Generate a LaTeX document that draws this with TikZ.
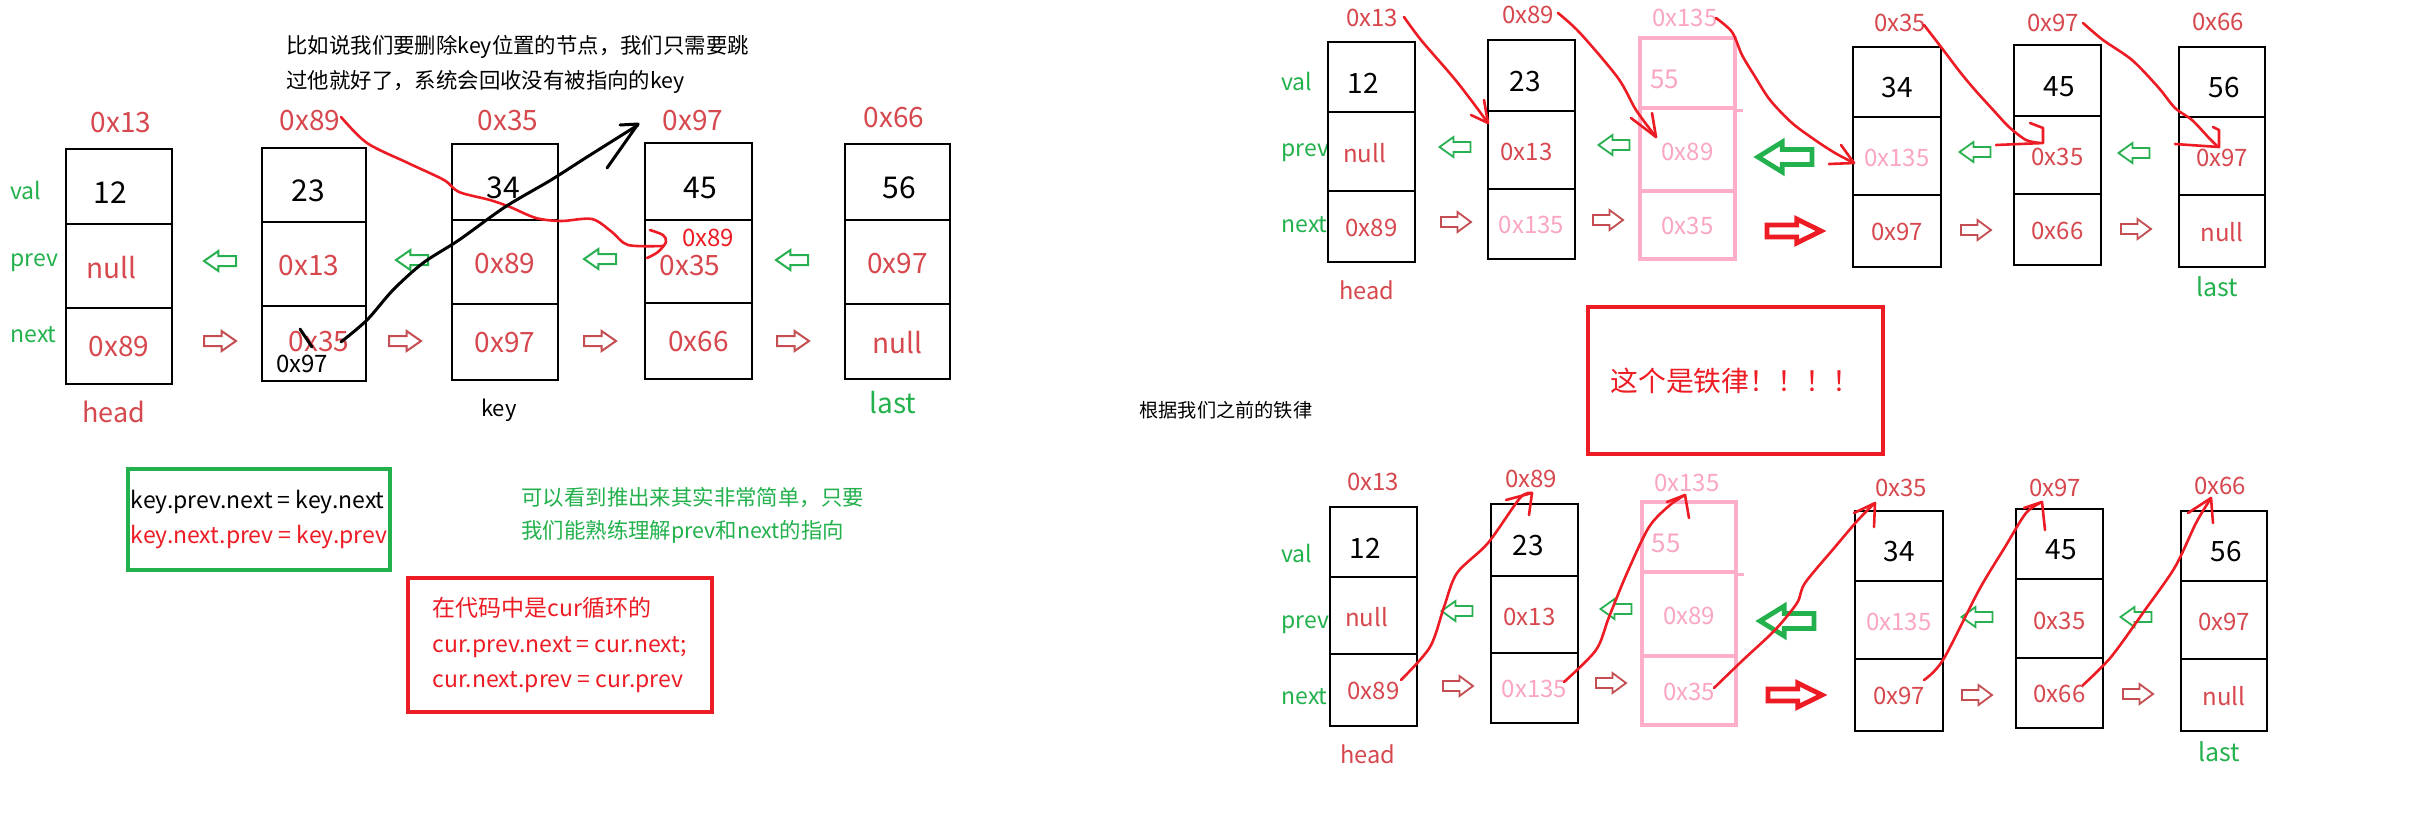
\documentclass[tikz,border=0pt]{standalone}
\usepackage{fontspec}
\setmainfont{Noto Sans CJK SC}
\usetikzlibrary{fit}
\definecolor{lblgreen}{RGB}{34,177,76}
\definecolor{addrred}{RGB}{214,72,78}
\definecolor{hred}{RGB}{237,28,36}
\definecolor{pinkline}{RGB}{255,174,201}
\definecolor{pinktext}{RGB}{250,165,195}
\definecolor{darrred}{RGB}{196,78,82}
\definecolor{arrgreen}{RGB}{40,175,80}
\def\vdx{0}\def\pdx{0}
\newcommand{\lln}[9]{\def\lname{#1}\def\lxa{#2}\def\lxb{#3}\def\lya{#4}\def\lyb{#5}\def\lyc{#6}\def\lyd{#7}\def\lvt{#8}\def\lpt{#9}\llnB}
\newcommand{\llnB}[1]{%
\node[boxcur,fit={(\lxa,\lya) (\lxb,\lyb)}] (\lname v) {};
\node[boxcur,fit={(\lxa,\lyb) (\lxb,\lyc)}] (\lname p) {};
\node[boxcur,fit={(\lxa,\lyc) (\lxb,\lyd)}] (\lname n) {};
\node[adrcur,valcur] (\lname vt) at ([shift={(\vdx,6)}]\lname v.center) {\lvt};
\node[adrcur] (\lname pt) at ([shift={(\pdx,2)}]\lname p.center) {\lpt};
\node[adrcur] (\lname nt) at ([shift={(0,1)}]\lname n.center) {#1};}
\tikzset{
  larrow/.pic={\draw (-1,0) -- (-0.1,1) -- (-0.1,0.5) -- (1,0.5) -- (1,-0.5) -- (-0.1,-0.5) -- (-0.1,-1) -- cycle;},
  rarrow/.pic={\draw (1,0) -- (0.1,1) -- (0.1,0.5) -- (-1,0.5) -- (-1,-0.5) -- (0.1,-0.5) -- (0.1,-1) -- cycle;},
  hand/.style={draw=hred, line width=1.3pt, line cap=round, line join=round},
  blk/.style={draw=black, line width=1.5pt, line cap=round, line join=round},
  lbl/.style={text=lblgreen, anchor=west, inner sep=0pt, font=\fontsize{11.5}{13}\selectfont},
  ttlL/.style={text=addrred, inner sep=0pt, font=\fontsize{14}{16}\selectfont},
  ttlR/.style={text=addrred, inner sep=0pt, font=\fontsize{12}{14}\selectfont},
  cjk/.style={anchor=west, inner sep=0pt, font=\fontsize{10.7}{12}\selectfont},
  sga/.style={color=arrgreen, line width=1pt, xscale=16, yscale=10},
  sra/.style={color=darrred, line width=1pt, xscale=16, yscale=10},
  sgr/.style={color=arrgreen, line width=0.9pt, xscale=15.5, yscale=10},
  srr/.style={color=darrred, line width=0.9pt, xscale=15, yscale=10},
}
\begin{document}
\begin{tikzpicture}[x=0.5pt,y=-0.5pt]
\useasboundingbox (0,0) rectangle (2416,816);
\fill[white] (0,0) rectangle (2416,816);

% ---------- left part ----------
\node[cjk] (tA) at (286,47) {比如说我们要删除key位置的节点，我们只需要跳};
\node[cjk] (tB) at (286,82) {过他就好了，系统会回收没有被指向的key};

\node[lbl] (Lval) at (10,190) {val};
\node[lbl] (Lprev) at (10,263) {prev};
\node[lbl] (Lnext) at (10,335) {next};

\tikzset{boxcur/.style={draw=black, inner sep=0pt, line width=1.4pt},
         adrcur/.style={inner sep=0pt, text=addrred, font=\fontsize{14}{16}\selectfont},
         valcur/.style={text=black, font=\fontsize{15}{17}\selectfont}}
\def\vdx{-9}\def\pdx{-8}
\lln{L1}{66}{172}{149}{224}{308}{384}{12}{null}{0x89}
\def\vdx{-6}\def\pdx{-5}
\lln{L2}{262}{366}{148}{222}{306}{381}{23}{0x13}{}
\def\vdx{-2}\def\pdx{0}
\lln{L3}{452}{558}{144}{220}{304}{380}{34}{0x89}{0x97}
\def\vdx{2}
\lln{L4}{645}{752}{143}{220}{303}{379}{45}{}{0x66}
\lln{L5}{845}{950}{144}{220}{304}{379}{56}{0x97}{null}
\def\vdx{0}
\node[ttlL] (L2nA) at (319,342) {0x35};
\node[inner sep=0pt, font=\fontsize{12}{14}\selectfont] (L2nB) at (302,364) {0x97};
\node[ttlL] (L4pA) at (690,266) {0x35};
\node[inner sep=0pt, text=hred, font=\fontsize{12}{14}\selectfont] (L4pB) at (708,238) {0x89};

\node[ttlL] (L1t) at (121,123) {0x13};
\node[ttlL] (L2t) at (310,121) {0x89};
\node[ttlL] (L3t) at (508,121) {0x35};
\node[ttlL] (L4t) at (693,121) {0x97};
\node[ttlL] (L5t) at (894,118) {0x66};
\node[inner sep=0pt, text=addrred, font=\fontsize{13.5}{15}\selectfont] (Lhead) at (114,412) {head};
\node[inner sep=0pt, font=\fontsize{11}{13}\selectfont] (Lkey) at (499,410) {key};
\node[inner sep=0pt, text=lblgreen, font=\fontsize{14}{16}\selectfont] (Llast) at (893,403) {last};

\pic[sga] (lg1) at (220,261) {larrow};
\pic[sga] (lg2) at (412,260) {larrow};
\pic[sga] (lg3) at (600,259) {larrow};
\pic[sga] (lg4) at (792,260) {larrow};
\pic[sra] (lr1) at (220,341) {rarrow};
\pic[sra] (lr2) at (405,341) {rarrow};
\pic[sra] (lr3) at (600,341) {rarrow};
\pic[sra] (lr4) at (793,341) {rarrow};

% hand-drawn strokes, left
\draw[hand] plot[smooth] coordinates {(341,117) (367,143) (408,163) (444,180) (459,192) (490,200) (510,207) (536,218) (561,221) (592,219) (612,232) (628,245) (663,246)};
\draw[hand] plot[smooth] coordinates {(650,230) (663,235) (666,242) (658,252) (647,258)};
\draw[blk] plot[smooth] coordinates {(341,342) (367,320) (393,290) (423,263) (459,240) (505,207) (551,180) (587,157) (638,125)};
\draw[blk] (620,125) -- (638,124) -- (607,168);
\draw[blk] (300,329) -- (312,347);

% formula boxes
\node[draw=lblgreen, line width=2.2pt, minimum width=131pt, minimum height=50.5pt, inner sep=0pt, align=left, font=\fontsize{11.5}{17.5}\selectfont] (gbox) at (259,519.5) {key.prev.next = key.next\\\textcolor{hred}{key.next.prev = key.prev}};
\node[cjk, text=lblgreen] (gtA) at (521,498) {可以看到推出来其实非常简单，只要};
\node[cjk, text=lblgreen] (gtB) at (521,532) {我们能熟练理解prev和next的指向};
\node[draw=hred, line width=2.2pt, minimum width=152pt, minimum height=67pt, inner sep=0pt, align=left, text=hred, font=\fontsize{11.5}{17.75}\selectfont] (rbox) at (560,645) {在代码中是cur循环的\\cur.prev.next = cur.next;\\cur.next.prev = cur.prev};

% ---------- right part ----------
\node[cjk, font=\fontsize{9.6}{11}\selectfont] (rule0) at (1139,410) {根据我们之前的铁律};
\node[draw=hred, line width=2.3pt, minimum width=147.5pt, minimum height=73.5pt, inner sep=0pt, text=hred, font=\fontsize{13.9}{15}\selectfont] (rule) at (1735.5,380.5) {这个是铁律！！！！};

\node[lbl] (Tval) at (1281,81) {val};
\node[lbl] (Tprev) at (1281,153) {prev};
\node[lbl] (Tnext) at (1281,225) {next};
\node[lbl] (Bval) at (1281,553) {val};
\node[lbl] (Bprev) at (1281,625) {prev};
\node[lbl] (Bnext) at (1281,697) {next};

\tikzset{boxcur/.style={draw=black, inner sep=0pt, line width=1.25pt},
         adrcur/.style={inner sep=0pt, text=addrred, font=\fontsize{12}{14}\selectfont},
         valcur/.style={text=black, font=\fontsize{14}{16}\selectfont}}
\def\vdx{-8}\def\pdx{-7}
\lln{T1}{1328}{1415}{42}{112}{191}{262}{12}{null}{0x89}
\lln{B1}{1330}{1417}{507}{577}{654}{726}{12}{null}{0x89}
\def\vdx{-6}\def\pdx{-5}
\lln{T2}{1488}{1575}{40}{111}{189}{259}{23}{0x13}{\textcolor{pinktext}{0x135}}
\lln{B2}{1491}{1578}{504}{576}{653}{723}{23}{0x13}{\textcolor{pinktext}{0x135}}
\def\vdx{0}\def\pdx{0}
\lln{T4}{1853}{1941}{47}{117}{195}{267}{34}{\textcolor{pinktext}{0x135}}{0x97}
\lln{B4}{1855}{1943}{511}{581}{659}{731}{34}{\textcolor{pinktext}{0x135}}{0x97}
\def\vdx{2}
\lln{T5}{2014}{2101}{45}{116}{194}{265}{45}{0x35}{0x66}
\lln{B5}{2016}{2103}{509}{579}{658}{728}{45}{0x35}{0x66}
\lln{T6}{2179}{2265}{47}{117}{195}{267}{56}{0x97}{null}
\lln{B6}{2181}{2267}{511}{581}{659}{731}{56}{0x97}{null}
\def\vdx{0}
\tikzset{boxcur/.style={draw=pinkline, inner sep=0pt, line width=2.3pt},
         adrcur/.style={inner sep=0pt, text=pinktext, font=\fontsize{12}{14}\selectfont},
         valcur/.style={text=pinktext, xshift=-11.5pt, font=\fontsize{13}{15}\selectfont}}
\lln{T3}{1640}{1735}{38}{108}{191}{259}{55}{0x89}{0x35}
\lln{B3}{1642}{1736}{502}{572}{656}{725}{55}{0x89}{0x35}
\draw[pinkline, line width=1.25pt] (T3v.south east) -- ++(6,0);
\draw[pinkline, line width=1.25pt] (B3v.south east) -- ++(6,0);

\node[ttlR] (T1t) at (1372,18) {0x13};
\node[ttlR] (T2t) at (1528,15) {0x89};
\node[ttlR, text=pinktext] (T3t) at (1685,18) {0x135};
\node[ttlR] (T4t) at (1900,23) {0x35};
\node[ttlR] (T5t) at (2053,23) {0x97};
\node[ttlR] (T6t) at (2218,22) {0x66};
\node[ttlR] (B1t) at (1373,482) {0x13};
\node[ttlR] (B2t) at (1531,479) {0x89};
\node[ttlR, text=pinktext] (B3t) at (1687,483) {0x135};
\node[ttlR] (B4t) at (1901,488) {0x35};
\node[ttlR] (B5t) at (2055,488) {0x97};
\node[ttlR] (B6t) at (2220,486) {0x66};
\node[ttlR, font=\fontsize{11.8}{13}\selectfont] (Thead) at (1367,290) {head};
\node[ttlR, font=\fontsize{11.8}{13}\selectfont] (Bhead) at (1368,754) {head};
\node[inner sep=0pt, text=lblgreen, font=\fontsize{12.5}{14}\selectfont] (Tlast) at (2217,287) {last};
\node[inner sep=0pt, text=lblgreen, font=\fontsize{12.5}{14}\selectfont] (Blast) at (2219,752) {last};

% small arrows right
\pic[sgr] (tg1) at (1455,147) {larrow};
\pic[sgr] (tg2) at (1614,145) {larrow};
\pic[sgr] (tg3) at (1975,152) {larrow};
\pic[sgr] (tg4) at (2134,153) {larrow};
\pic[srr] (tr1) at (1456,222) {rarrow};
\pic[srr] (tr2) at (1608,220) {rarrow};
\pic[srr] (tr3) at (1976,230) {rarrow};
\pic[srr] (tr4) at (2136,229) {rarrow};
\pic[sgr] (bg1) at (1457,611) {larrow};
\pic[sgr] (bg2) at (1616,609) {larrow};
\pic[sgr] (bg3) at (1977,617) {larrow};
\pic[sgr] (bg4) at (2136,617) {larrow};
\pic[srr] (br1) at (1458,686) {rarrow};
\pic[srr] (br2) at (1611,683) {rarrow};
\pic[srr] (br3) at (1977,695) {rarrow};
\pic[srr] (br4) at (2138,694) {rarrow};
% big arrows
\pic[color=lblgreen, line width=2.4pt, xscale=27, yscale=15] (tgb) at (1785,157) {larrow};
\pic[color=hred, line width=2.4pt, xscale=27, yscale=12] (trb) at (1794,231) {rarrow};
\pic[color=lblgreen, line width=2.4pt, xscale=27, yscale=15] (bgb) at (1787,621) {larrow};
\pic[color=hred, line width=2.4pt, xscale=27, yscale=12] (brb) at (1795,695) {rarrow};

% hand-drawn strokes, top right
\draw[hand] plot[smooth] coordinates {(1404,17) (1421,40) (1453,77) (1471,100) (1488,123)};
\draw[hand] (1484,100) -- (1488,123) -- (1471,115);
\draw[hand] plot[smooth] coordinates {(1558,13) (1580,33) (1618,78) (1636,110) (1656,137)};
\draw[hand] (1652,113) -- (1656,137) -- (1631,118);
\draw[hand] plot[smooth] coordinates {(1716,18) (1732,32) (1742,55) (1754,75) (1770,100) (1792,123) (1815,140) (1835,153) (1854,163)};
\draw[hand] (1841,145) -- (1854,163) -- (1829,164);
\draw[hand] plot[smooth] coordinates {(1924,25) (1941,47) (1960,72) (1975,90) (1995,112) (2009,127) (2026,140) (2040,143)};
\draw[hand] (1996,145) -- (2043,143) -- (2043,128) -- (2030,123);
\draw[hand] plot[smooth] coordinates {(2083,23) (2103,40) (2132,60) (2158,87) (2175,108) (2192,120) (2209,138) (2217,146)};
\draw[hand] (2175,144) -- (2219,147) -- (2219,130) -- (2213,127);

% hand-drawn strokes, bottom right
\draw[hand] plot[smooth] coordinates {(1401,680) (1430,647) (1444,607) (1457,573) (1488,543) (1520,498) (1532,493)};
\draw[hand] (1506,500) -- (1532,493) -- (1529,515);
\draw[hand] plot[smooth] coordinates {(1564,682) (1596,650) (1609,617) (1627,573) (1649,527) (1670,505) (1685,495)};
\draw[hand] (1667,502) -- (1685,495) -- (1689,518);
\draw[hand] plot[smooth] coordinates {(1714,688) (1743,660) (1775,630) (1797,603) (1805,583) (1835,547) (1858,520) (1875,503)};
\draw[hand] (1854,513) -- (1875,503) -- (1874,527);
\draw[hand] plot[smooth] coordinates {(1924,680) (1943,660) (1979,590) (2005,547) (2026,513) (2042,502)};
\draw[hand] (2024,508) -- (2042,502) -- (2045,530);
\draw[hand] plot[smooth] coordinates {(2083,685) (2111,657) (2145,610) (2175,567) (2196,523) (2211,498)};
\draw[hand] (2188,513) -- (2211,498) -- (2213,523);
\end{tikzpicture}
\end{document}
